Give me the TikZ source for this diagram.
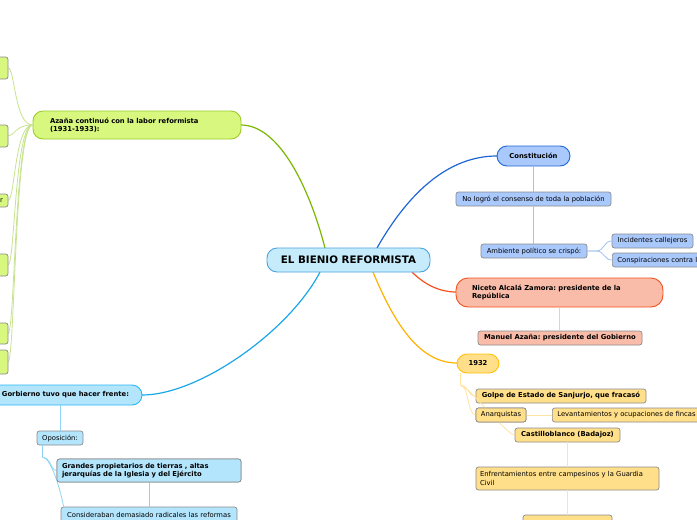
\documentclass[tikz,border=0pt]{standalone}
\usepackage{fontspec}
\setmainfont{DejaVu Sans}
\usepackage{tikz}
\usetikzlibrary{calc}
\usetikzlibrary{positioning}
\frenchspacing

\definecolor{titlefill}{HTML}{C6ECFB}
\definecolor{titleline}{HTML}{4AA3DF}
\definecolor{greenfill}{HTML}{D7F77F}
\definecolor{greenline}{HTML}{9CCC2C}
\definecolor{greenlink}{HTML}{7AB800}
\definecolor{greensub}{HTML}{C8E38F}
\definecolor{cyanfill}{HTML}{B3E5FC}
\definecolor{cyanline}{HTML}{29B6F6}
\definecolor{cyanlink}{HTML}{1AA8E8}
\definecolor{cyansub}{HTML}{8FD4F5}
\definecolor{bluefill}{HTML}{A9C8FC}
\definecolor{blueline}{HTML}{1E66D6}
\definecolor{bluesub}{HTML}{A0C2F0}
\definecolor{redfill}{HTML}{F9BCA9}
\definecolor{redline}{HTML}{F4511E}
\definecolor{redsub}{HTML}{F9C8B8}
\definecolor{yelfill}{HTML}{FFDF8A}
\definecolor{yelline}{HTML}{FFC107}
\definecolor{yellink}{HTML}{FFB300}
\definecolor{yelsub}{HTML}{FFE3A0}
\definecolor{boxgray}{HTML}{8C8C8C}

\tikzset{
	topic/.style={draw,rounded corners=10pt,line width=0.9pt,inner sep=0pt,font=\bfseries\fontsize{6.8}{8.2}\selectfont},
	leaf/.style={draw=boxgray,rounded corners=2.5pt,line width=0.7pt,inner sep=0pt,font=\fontsize{6.8}{8.2}\selectfont},
	bleaf/.style={leaf,font=\bfseries\fontsize{6.8}{8.2}\selectfont},
	link/.style={line width=1.2pt},
	sublink/.style={line width=0.8pt},
}

\begin{document}
\begin{tikzpicture}[x=1pt,y=-1pt]
\useasboundingbox (0,0) rectangle (697,520);
\clip (0,0) rectangle (697,520);
\fill[white] (0,0) rectangle (697,520);
\coordinate (t1) at (325,248);
\coordinate (t2) at (320,272);
\coordinate (t3) at (377,248);
\coordinate (t4) at (412,272);
\coordinate (t5) at (373,272);
\draw[link,greenlink] (t1) .. controls (310,190) and (280,125) .. (241,125);
\draw[link,cyanlink] (t2) .. controls (290,330) and (200,395) .. (142,395);
\draw[link,blueline] (t3) .. controls (410,190) and (450,156) .. (497,156);
\draw[link,redline] (t4) .. controls (425,285) and (440,292) .. (456,292);
\draw[link,yellink] (t5) .. controls (395,325) and (420,363) .. (457,363);

\node[topic,fill=titlefill,draw=titleline,font=\bfseries\fontsize{10.3}{12}\selectfont,minimum width=163,minimum height=24] (bienio) at (348.5,260) {EL BIENIO REFORMISTA};

% izquierda arriba
\node[topic,fill=greenfill,draw=greenline,inner xsep=17pt,text width=174,align=left,minimum height=28] (azana) at (137,125) {Aza\~na continu\'o con la labor reformista\\(1931-1933):};
\foreach \n/\y/\h in {g1/68/22,g2/136/22,g3/200.5/13,g4/265/22,g5/333.5/21,g6/362/24}{
		\draw[sublink,greensub] (azana.west) .. controls +(-18,0) and (15,\y) .. (8,\y);
}
\foreach \n/\y/\h in {g1/68/22,g2/136/22,g4/265/22,g5/333.5/21,g6/362/24}{
		\node[leaf,fill=greenfill,minimum width=40,minimum height=\h] (\n) at (-12,\y) {};
}
\node[leaf,fill=greenfill,inner xsep=5pt,text width=30,align=right,minimum height=13] (g3) at (-12,200.5) {r};

% izquierda abajo
\node[topic,fill=cyanfill,draw=cyanline,minimum width=153,minimum height=20] (gobierno) at (65.5,395) {Gorbierno tuvo que hacer frente:};
\node[leaf,fill=cyanfill,minimum width=46,minimum height=14] (oposicion) at (60,438) {Oposici\'on:};
\node[bleaf,fill=cyanfill,inner xsep=5pt,text width=174,align=left,minimum height=23] (grandes) at (149,470.5) {Grandes propietarios de tierras , altas\\jerarqu\'ias de la Iglesia y del Ej\'ercito};
\node[leaf,fill=cyanfill,minimum width=176,minimum height=15] (consideraban) at (149,514.5) {Consideraban demasiado radicales las reformas};
\draw[sublink,cyansub] (oposicion.north) -- (oposicion.north |- gobierno.south);
\coordinate (jop) at ($(oposicion.south west)+(6,12)$);
\draw[sublink,cyansub] ($(oposicion.south west)+(6,0)$) -- (jop);
\draw[sublink,cyansub] (jop) .. controls +(8,0) and +(-6,0) .. (grandes.west);
\draw[sublink,cyansub] (jop) .. controls +(8,0) and +(-4,-20) .. ($(consideraban.north west)+(3,0)$);
\draw[sublink,cyansub] (grandes.south) -- (grandes.south |- consideraban.north);
\node[bleaf,fill=cyanfill,inner xsep=5pt,text width=174,align=left,minimum height=23] at (grandes) {Grandes propietarios de tierras , altas\\jerarqu\'ias de la Iglesia y del Ej\'ercito};

% derecha arriba
\node[topic,fill=bluefill,draw=blueline,minimum width=73,minimum height=20] (constitucion) at (533.5,156) {Constituci\'on};
\node[leaf,fill=bluefill,minimum width=155,minimum height=14] (consenso) at (533.5,199) {No logr\'o el consenso de toda la poblaci\'on};
\node[leaf,fill=bluefill,minimum width=106,minimum height=14] (ambiente) at (534,251) {Ambiente pol\'itico se crisp\'o:};
\node[leaf,fill=bluefill,minimum width=81,minimum height=14] (incidentes) at (652.5,241) {Incidentes callejeros};
\node[leaf,fill=bluefill,inner xsep=5pt,minimum height=14,anchor=west] (conspiraciones) at (612,260) {Conspiraciones contra la Rep\'ublica};
\draw[sublink,bluesub] (constitucion.south) -- (consenso.north);
\draw[sublink,bluesub] (consenso.south) -- (consenso.south |- ambiente.north);
\foreach \n in {incidentes,conspiraciones}{
		\draw[sublink,bluesub] (ambiente.east) -- ++(9,0) .. controls +(8,0) and +(-8,0) .. (\n.west);
}

% derecha centro
\node[topic,fill=redfill,draw=redline,rounded corners=12pt,inner xsep=16pt,text width=175,align=left,minimum height=29] (niceto) at (559.5,292.5) {Niceto Alcal\'a Zamora: presidente de la\\Rep\'ublica};
\node[bleaf,fill=redfill,minimum width=164,minimum height=14] (manuel) at (560,338) {Manuel Aza\~na: presidente del Gobierno};
\draw[sublink,redsub] (niceto.south) -- (niceto.south |- manuel.north);

% derecha abajo
\node[topic,fill=yelfill,draw=yelline,minimum width=42,minimum height=19] (y1932) at (478,363.5) {1932};
\node[bleaf,fill=yelfill,minimum width=170,minimum height=14] (golpe) at (561,396) {Golpe de Estado de Sanjurjo, que fracas\'o};
\node[leaf,fill=yelfill,minimum width=50,minimum height=14] (anarquistas) at (501,415) {Anarquistas};
\node[leaf,fill=yelfill,inner xsep=5pt,minimum height=14,anchor=west] (levantamientos) at (552,415) {Levantamientos y ocupaciones de fincas};
\node[bleaf,fill=yelfill,minimum width=105,minimum height=14] (castillo) at (567.5,435) {Castilloblanco (Badajoz)};
\node[leaf,fill=yelfill,inner xsep=4pt,text width=175,align=left,minimum height=23] (enfrenta) at (567.5,478.5) {Enfrentamientos entre campesinos y la Guardia\\Civil};
\node[bleaf,fill=yelfill,minimum width=89,minimum height=14] (ultimo) at (567.5,522) {};
\coordinate (j1932) at ($(y1932.south west)+(4,12)$);
\draw[sublink,yelsub] ($(y1932.south west)+(4,0)$) -- (j1932);
\foreach \n in {golpe,anarquistas,castillo}{
		\draw[sublink,yelsub] (j1932) .. controls +(8,0) and +(-8,0) .. (\n.west);
}
\draw[sublink,yelsub] (anarquistas.east) -- (levantamientos.west);
\draw[sublink,yelsub] (castillo.south) -- (castillo.south |- enfrenta.north);
\draw[sublink,yelsub] (enfrenta.south) -- (enfrenta.south |- ultimo.north);
\node[leaf,fill=yelfill,minimum width=50,minimum height=14] at (anarquistas) {Anarquistas};
\end{tikzpicture}
\end{document}
